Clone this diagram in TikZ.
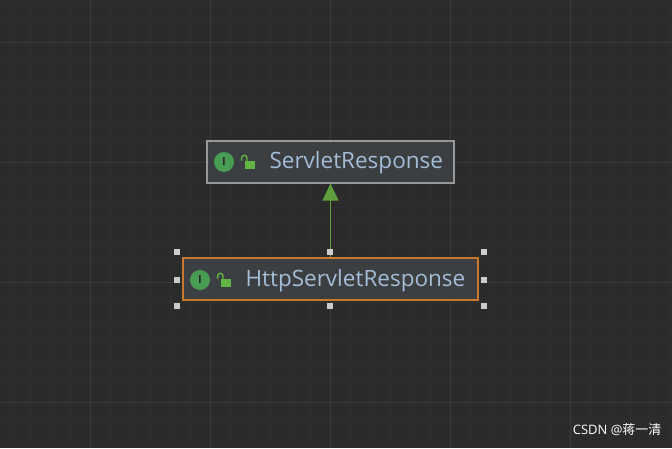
\documentclass[tikz,border=0pt]{standalone}
\usepackage{fontspec}
\setmainfont{Open Sans}
\newfontfamily\cjk{Noto Sans CJK SC}
\usetikzlibrary{arrows.meta}
\definecolor{bg}{HTML}{2B2B2B}
\definecolor{gminor}{HTML}{303030}
\definecolor{gmajor}{HTML}{3A3A3A}
\definecolor{boxfill}{HTML}{3C3F41}
\definecolor{txt}{HTML}{A4BCD6}
\definecolor{icong}{HTML}{499C54}
\definecolor{lockg}{HTML}{62B543}
\definecolor{arr}{HTML}{5E9E3C}
\definecolor{orng}{HTML}{C8792D}
\tikzset{
 cls/.style={draw=#1, fill=boxfill, line width=1.2pt, minimum height=42pt, inner sep=0pt},
 lbl/.style={anchor=west, text=txt, font=\fontsize{22.5}{24}\selectfont},
 handle/.style={fill=lightgray!80, minimum size=6pt, inner sep=0pt},
 iconI/.style={circle, fill=icong, minimum size=20pt, inner sep=0pt, font=\bfseries\fontsize{11}{11}\selectfont, text=black!85},
}
\begin{document}
\begin{tikzpicture}[x=1pt,y=-1pt]
\useasboundingbox (0,0) rectangle (672,448);
\fill[bg] (0,0) rectangle (672,448);
\foreach \x in {10,30,...,670} \draw[gminor,line width=0.6pt] (\x,0) -- (\x,448);
\foreach \y in {2,22,...,446} \draw[gminor,line width=0.6pt] (0,\y) -- (672,\y);
\foreach \x in {90,210,330,450,570} \draw[gmajor,line width=0.8pt] (\x,0) -- (\x,448);
\foreach \y in {42,162,282,402} \draw[gmajor,line width=0.8pt] (0,\y) -- (672,\y);
\node[cls=gray!80, minimum width=247pt] (sr) at (330.5,162) {};
\node[lbl] (srt) at (266,162.5) {ServletResponse};
\node[iconI] (sri) at (224,162) {I};
\node[cls=orng, minimum width=295pt] (hsr) at (330.5,279) {};
\node[lbl] (hsrt) at (242,280.5) {HttpServletResponse};
\node[iconI] (hsri) at (200,280) {I};
\foreach \cx/\cy in {249/164,225/282}{
  \fill[lockg] (\cx-4,\cy-3) rectangle (\cx+6,\cy+5);
  \draw[lockg,line width=1.4pt] (\cx-2,\cy-3) -- (\cx-2,\cy-6) arc (0:-180:2.7) -- ++(0,2.5);
}
\draw[arr, line width=1.2pt, -{Triangle[length=17pt,width=16pt]}] (hsr.north) -- (sr.south);
\foreach \hx/\hy [count=\i] in {177/252,330/252,484/252,177/280,484/280,177/306,330/306,484/306}
  \node[handle] (h\i) at (\hx,\hy) {};
\node[anchor=east, text=white, font=\fontsize{13}{13}\selectfont] (wm) at (665,430) {CSDN @{\cjk 蒋一清}};
\end{tikzpicture}
\end{document}
